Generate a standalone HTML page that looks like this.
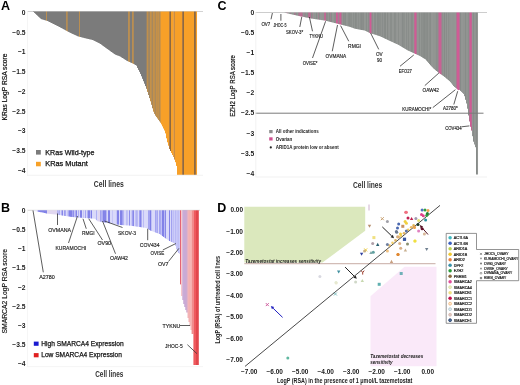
<!DOCTYPE html>
<html><head><meta charset="utf-8"><style>
html,body{margin:0;padding:0;background:#fff;}
svg{display:block;font-family:"Liberation Sans", Arial, sans-serif;}
</style></head><body>
<svg width="520" height="385" viewBox="0 0 520 385">
<rect width="520" height="385" fill="#fff"/>
<line x1="27" y1="11.5" x2="203" y2="11.5" stroke="#c8c8c8" stroke-width="0.8"/>
<rect x="33" y="11.5" width="1.02" height="0.5" fill="#7b7b7b"/>
<rect x="34" y="11.5" width="1.02" height="1.4" fill="#7b7b7b"/>
<rect x="35" y="11.5" width="1.02" height="2.3" fill="#7b7b7b"/>
<rect x="36" y="11.5" width="1.02" height="3.3" fill="#7b7b7b"/>
<rect x="37" y="11.5" width="1.02" height="4.2" fill="#7b7b7b"/>
<rect x="38" y="11.5" width="1.02" height="5.2" fill="#7b7b7b"/>
<rect x="39" y="11.5" width="1.02" height="6.1" fill="#7b7b7b"/>
<rect x="40" y="11.5" width="1.02" height="7.0" fill="#7b7b7b"/>
<rect x="41" y="11.5" width="1.02" height="7.7" fill="#7b7b7b"/>
<rect x="42" y="11.5" width="1.02" height="8.0" fill="#7b7b7b"/>
<rect x="43" y="11.5" width="1.02" height="8.3" fill="#7b7b7b"/>
<rect x="44" y="11.5" width="1.02" height="8.6" fill="#7b7b7b"/>
<rect x="45" y="11.5" width="1.02" height="8.9" fill="#7b7b7b"/>
<rect x="46" y="11.5" width="1.02" height="9.2" fill="#b98e52"/>
<rect x="47" y="11.5" width="1.02" height="9.5" fill="#7b7b7b"/>
<rect x="48" y="11.5" width="1.02" height="10.0" fill="#7b7b7b"/>
<rect x="49" y="11.5" width="1.02" height="10.5" fill="#7b7b7b"/>
<rect x="50" y="11.5" width="1.02" height="11.0" fill="#7b7b7b"/>
<rect x="51" y="11.5" width="1.02" height="11.5" fill="#7b7b7b"/>
<rect x="52" y="11.5" width="1.02" height="12.0" fill="#7b7b7b"/>
<rect x="53" y="11.5" width="1.02" height="12.5" fill="#7b7b7b"/>
<rect x="54" y="11.5" width="1.02" height="13.0" fill="#7b7b7b"/>
<rect x="55" y="11.5" width="1.02" height="13.5" fill="#7b7b7b"/>
<rect x="56" y="11.5" width="1.02" height="14.0" fill="#7b7b7b"/>
<rect x="57" y="11.5" width="1.02" height="14.5" fill="#7b7b7b"/>
<rect x="58" y="11.5" width="1.02" height="15.0" fill="#7b7b7b"/>
<rect x="59" y="11.5" width="1.02" height="15.5" fill="#7b7b7b"/>
<rect x="60" y="11.5" width="1.02" height="16.1" fill="#7b7b7b"/>
<rect x="61" y="11.5" width="1.02" height="16.6" fill="#7b7b7b"/>
<rect x="62" y="11.5" width="1.02" height="17.1" fill="#7b7b7b"/>
<rect x="63" y="11.5" width="1.02" height="17.7" fill="#7b7b7b"/>
<rect x="64" y="11.5" width="1.02" height="18.2" fill="#7b7b7b"/>
<rect x="65" y="11.5" width="1.02" height="18.8" fill="#7b7b7b"/>
<rect x="66" y="11.5" width="1.02" height="19.3" fill="#b38c56"/>
<rect x="67" y="11.5" width="1.02" height="19.9" fill="#a6885e"/>
<rect x="68" y="11.5" width="1.02" height="20.4" fill="#7b7b7b"/>
<rect x="69" y="11.5" width="1.02" height="20.9" fill="#7b7b7b"/>
<rect x="70" y="11.5" width="1.02" height="21.4" fill="#7b7b7b"/>
<rect x="71" y="11.5" width="1.02" height="21.9" fill="#7b7b7b"/>
<rect x="72" y="11.5" width="1.02" height="22.4" fill="#7b7b7b"/>
<rect x="73" y="11.5" width="1.02" height="22.8" fill="#7b7b7b"/>
<rect x="74" y="11.5" width="1.02" height="23.3" fill="#7b7b7b"/>
<rect x="75" y="11.5" width="1.02" height="23.7" fill="#7b7b7b"/>
<rect x="76" y="11.5" width="1.02" height="24.2" fill="#7b7b7b"/>
<rect x="77" y="11.5" width="1.02" height="24.7" fill="#7b7b7b"/>
<rect x="78" y="11.5" width="1.02" height="25.0" fill="#7b7b7b"/>
<rect x="79" y="11.5" width="1.02" height="25.3" fill="#b98e52"/>
<rect x="80" y="11.5" width="1.02" height="25.5" fill="#7b7b7b"/>
<rect x="81" y="11.5" width="1.02" height="25.8" fill="#7b7b7b"/>
<rect x="82" y="11.5" width="1.02" height="26.1" fill="#7b7b7b"/>
<rect x="83" y="11.5" width="1.02" height="26.3" fill="#7b7b7b"/>
<rect x="84" y="11.5" width="1.02" height="26.6" fill="#7b7b7b"/>
<rect x="85" y="11.5" width="1.02" height="26.8" fill="#7b7b7b"/>
<rect x="86" y="11.5" width="1.02" height="27.1" fill="#7b7b7b"/>
<rect x="87" y="11.5" width="1.02" height="27.3" fill="#7b7b7b"/>
<rect x="88" y="11.5" width="1.02" height="27.5" fill="#7b7b7b"/>
<rect x="89" y="11.5" width="1.02" height="27.8" fill="#7b7b7b"/>
<rect x="90" y="11.5" width="1.02" height="28.0" fill="#7b7b7b"/>
<rect x="91" y="11.5" width="1.02" height="28.2" fill="#7b7b7b"/>
<rect x="92" y="11.5" width="1.02" height="28.5" fill="#7b7b7b"/>
<rect x="93" y="11.5" width="1.02" height="28.9" fill="#7b7b7b"/>
<rect x="94" y="11.5" width="1.02" height="29.4" fill="#7b7b7b"/>
<rect x="95" y="11.5" width="1.02" height="29.9" fill="#7b7b7b"/>
<rect x="96" y="11.5" width="1.02" height="30.4" fill="#7b7b7b"/>
<rect x="97" y="11.5" width="1.02" height="30.9" fill="#7b7b7b"/>
<rect x="98" y="11.5" width="1.02" height="31.4" fill="#7b7b7b"/>
<rect x="99" y="11.5" width="1.02" height="31.9" fill="#7b7b7b"/>
<rect x="100" y="11.5" width="1.02" height="32.5" fill="#7b7b7b"/>
<rect x="101" y="11.5" width="1.02" height="33.2" fill="#7b7b7b"/>
<rect x="102" y="11.5" width="1.02" height="34.0" fill="#7b7b7b"/>
<rect x="103" y="11.5" width="1.02" height="34.7" fill="#7b7b7b"/>
<rect x="104" y="11.5" width="1.02" height="35.4" fill="#7b7b7b"/>
<rect x="105" y="11.5" width="1.02" height="36.2" fill="#7b7b7b"/>
<rect x="106" y="11.5" width="1.02" height="36.9" fill="#7b7b7b"/>
<rect x="107" y="11.5" width="1.02" height="37.6" fill="#7b7b7b"/>
<rect x="108" y="11.5" width="1.02" height="38.3" fill="#7b7b7b"/>
<rect x="109" y="11.5" width="1.02" height="39.0" fill="#7b7b7b"/>
<rect x="110" y="11.5" width="1.02" height="39.8" fill="#7b7b7b"/>
<rect x="111" y="11.5" width="1.02" height="40.5" fill="#7b7b7b"/>
<rect x="112" y="11.5" width="1.02" height="41.2" fill="#7b7b7b"/>
<rect x="113" y="11.5" width="1.02" height="41.9" fill="#7b7b7b"/>
<rect x="114" y="11.5" width="1.02" height="42.6" fill="#7b7b7b"/>
<rect x="115" y="11.5" width="1.02" height="43.2" fill="#7b7b7b"/>
<rect x="116" y="11.5" width="1.02" height="43.6" fill="#7b7b7b"/>
<rect x="117" y="11.5" width="1.02" height="44.0" fill="#7b7b7b"/>
<rect x="118" y="11.5" width="1.02" height="44.3" fill="#7b7b7b"/>
<rect x="119" y="11.5" width="1.02" height="44.7" fill="#7b7b7b"/>
<rect x="120" y="11.5" width="1.02" height="45.2" fill="#7b7b7b"/>
<rect x="121" y="11.5" width="1.02" height="45.9" fill="#7b7b7b"/>
<rect x="122" y="11.5" width="1.02" height="46.5" fill="#7b7b7b"/>
<rect x="123" y="11.5" width="1.02" height="47.1" fill="#7b7b7b"/>
<rect x="124" y="11.5" width="1.02" height="47.8" fill="#7b7b7b"/>
<rect x="125" y="11.5" width="1.02" height="48.4" fill="#7b7b7b"/>
<rect x="126" y="11.5" width="1.02" height="49.1" fill="#7b7b7b"/>
<rect x="127" y="11.5" width="1.02" height="49.6" fill="#7b7b7b"/>
<rect x="128" y="11.5" width="1.02" height="50.1" fill="#b98e52"/>
<rect x="129" y="11.5" width="1.02" height="50.5" fill="#b38c56"/>
<rect x="130" y="11.5" width="1.02" height="51.0" fill="#7b7b7b"/>
<rect x="131" y="11.5" width="1.02" height="51.4" fill="#7b7b7b"/>
<rect x="132" y="11.5" width="1.02" height="51.9" fill="#b98e52"/>
<rect x="133" y="11.5" width="1.02" height="52.4" fill="#ad8a5a"/>
<rect x="134" y="11.5" width="1.02" height="52.9" fill="#7b7b7b"/>
<rect x="135" y="11.5" width="1.02" height="53.5" fill="#7b7b7b"/>
<rect x="136" y="11.5" width="1.02" height="54.2" fill="#7b7b7b"/>
<rect x="137" y="11.5" width="1.02" height="56.4" fill="#7b7b7b"/>
<rect x="138" y="11.5" width="1.02" height="58.4" fill="#7b7b7b"/>
<rect x="139" y="11.5" width="1.02" height="60.3" fill="#7b7b7b"/>
<rect x="140" y="11.5" width="1.02" height="62.4" fill="#7b7b7b"/>
<rect x="141" y="11.5" width="1.02" height="64.8" fill="#7b7b7b"/>
<rect x="142" y="11.5" width="1.02" height="67.3" fill="#7b7b7b"/>
<rect x="143" y="11.5" width="1.02" height="69.7" fill="#7b7b7b"/>
<rect x="144" y="11.5" width="1.02" height="72.2" fill="#7b7b7b"/>
<rect x="145" y="11.5" width="1.02" height="74.6" fill="#7b7b7b"/>
<rect x="146" y="11.5" width="1.02" height="77.3" fill="#94826a"/>
<rect x="147" y="11.5" width="1.02" height="80.4" fill="#bf8f4d"/>
<rect x="148" y="11.5" width="1.02" height="83.5" fill="#a6885e"/>
<rect x="149" y="11.5" width="1.02" height="86.6" fill="#a08662"/>
<rect x="150" y="11.5" width="1.02" height="89.8" fill="#c59149"/>
<rect x="151" y="11.5" width="1.02" height="93.3" fill="#b98e52"/>
<rect x="152" y="11.5" width="1.02" height="96.8" fill="#a6885e"/>
<rect x="153" y="11.5" width="1.02" height="100.2" fill="#c59149"/>
<rect x="154" y="11.5" width="1.02" height="102.4" fill="#bf8f4d"/>
<rect x="155" y="11.5" width="1.02" height="104.2" fill="#ad8a5a"/>
<rect x="156" y="11.5" width="1.02" height="105.6" fill="#c59149"/>
<rect x="157" y="11.5" width="1.02" height="107.0" fill="#bf8f4d"/>
<rect x="158" y="11.5" width="1.02" height="108.4" fill="#c59149"/>
<rect x="159" y="11.5" width="1.02" height="109.8" fill="#b38c56"/>
<rect x="160" y="11.5" width="1.02" height="111.2" fill="#d29541"/>
<rect x="161" y="11.5" width="1.02" height="112.9" fill="#f7a028"/>
<rect x="162" y="11.5" width="1.02" height="114.9" fill="#f7a028"/>
<rect x="163" y="11.5" width="1.02" height="117.0" fill="#f7a028"/>
<rect x="164" y="11.5" width="1.02" height="119.0" fill="#f7a028"/>
<rect x="165" y="11.5" width="1.02" height="121.9" fill="#f7a028"/>
<rect x="166" y="11.5" width="1.02" height="126.8" fill="#f7a028"/>
<rect x="167" y="11.5" width="1.02" height="130.8" fill="#f7a028"/>
<rect x="168" y="11.5" width="1.02" height="134.2" fill="#f7a028"/>
<rect x="169" y="11.5" width="1.02" height="137.5" fill="#af7d46"/>
<rect x="170" y="11.5" width="1.02" height="139.5" fill="#8c6941"/>
<rect x="171" y="11.5" width="1.02" height="141.5" fill="#f7a028"/>
<rect x="172" y="11.5" width="1.02" height="143.5" fill="#f7a028"/>
<rect x="173" y="11.5" width="1.02" height="145.5" fill="#e6a046"/>
<rect x="174" y="11.5" width="1.02" height="148.1" fill="#c88c46"/>
<rect x="175" y="11.5" width="1.02" height="150.7" fill="#f7a028"/>
<rect x="176" y="11.5" width="1.02" height="154.4" fill="#f7a028"/>
<rect x="177" y="11.5" width="1.02" height="163.4" fill="#f7a028"/>
<rect x="178" y="11.5" width="1.02" height="163.4" fill="#f7a028"/>
<rect x="179" y="11.5" width="1.02" height="163.4" fill="#f7a028"/>
<rect x="180" y="11.5" width="1.02" height="163.4" fill="#f7a028"/>
<rect x="181" y="11.5" width="1.02" height="163.4" fill="#f7a028"/>
<rect x="182" y="11.5" width="1.02" height="163.4" fill="#aa7846"/>
<rect x="183" y="11.5" width="1.02" height="163.4" fill="#8c6941"/>
<rect x="184" y="11.5" width="1.02" height="163.4" fill="#f7a028"/>
<rect x="185" y="11.5" width="1.02" height="163.4" fill="#f7a028"/>
<rect x="186" y="11.5" width="1.02" height="163.4" fill="#f7a028"/>
<rect x="187" y="11.5" width="1.02" height="163.4" fill="#f7a028"/>
<rect x="188" y="11.5" width="1.02" height="163.4" fill="#f7a028"/>
<rect x="189" y="11.5" width="1.02" height="163.4" fill="#f7a028"/>
<rect x="190" y="11.5" width="1.02" height="163.4" fill="#f7a028"/>
<rect x="191" y="11.5" width="1.02" height="163.4" fill="#f7a028"/>
<rect x="192" y="11.5" width="1.02" height="163.4" fill="#f7a028"/>
<rect x="193" y="11.5" width="1.02" height="163.4" fill="#f7a028"/>
<rect x="194" y="11.5" width="1.02" height="163.4" fill="#8c6941"/>
<rect x="195" y="11.5" width="1.02" height="163.4" fill="#a07341"/>
<rect x="196" y="11.5" width="1.02" height="163.4" fill="#f7a028"/>
<line x1="27" y1="175.3" x2="203" y2="175.3" stroke="#f0f0f0" stroke-width="0.8"/>
<line x1="27.5" y1="11" x2="27.5" y2="176" stroke="#f2f2f2" stroke-width="0.8"/>
<text x="25.5" y="14.9" font-size="6.7" text-anchor="end" font-weight="bold" fill="#1a1a1a" >0</text>
<text x="25.5" y="34.65" font-size="6.7" text-anchor="end" font-weight="bold" fill="#1a1a1a" >−0.5</text>
<text x="25.5" y="54.4" font-size="6.7" text-anchor="end" font-weight="bold" fill="#1a1a1a" >−1</text>
<text x="25.5" y="74.15" font-size="6.7" text-anchor="end" font-weight="bold" fill="#1a1a1a" >−1.5</text>
<text x="25.5" y="93.9" font-size="6.7" text-anchor="end" font-weight="bold" fill="#1a1a1a" >−2</text>
<text x="25.5" y="113.65" font-size="6.7" text-anchor="end" font-weight="bold" fill="#1a1a1a" >−2.5</text>
<text x="25.5" y="133.4" font-size="6.7" text-anchor="end" font-weight="bold" fill="#1a1a1a" >−3</text>
<text x="25.5" y="153.15" font-size="6.7" text-anchor="end" font-weight="bold" fill="#1a1a1a" >−3.5</text>
<text x="25.5" y="172.9" font-size="6.7" text-anchor="end" font-weight="bold" fill="#1a1a1a" >−4</text>
<text x="1" y="10.3" font-size="12.5" text-anchor="start" font-weight="bold" fill="#000" >A</text>
<text transform="translate(7.1,87.05) rotate(-90)" font-size="6.9" text-anchor="middle" fill="#111" stroke="#111" stroke-width="0.2" textLength="66.9" lengthAdjust="spacingAndGlyphs">KRas LogP RSA score</text>
<rect x="36" y="150" width="4.8" height="4.6" fill="#7b7b7b"/>
<rect x="36" y="161.8" width="4.8" height="4.5" fill="#f7a128"/>
<text x="45.3" y="155" font-size="7.3" text-anchor="start" font-weight="normal" fill="#111" textLength="49.20" lengthAdjust="spacingAndGlyphs" stroke="#111" stroke-width="0.25">KRas Wild-type</text>
<text x="45.3" y="166.2" font-size="7.3" text-anchor="start" font-weight="normal" fill="#111" textLength="42.50" lengthAdjust="spacingAndGlyphs" stroke="#111" stroke-width="0.25">KRas Mutant</text>
<text x="93.8" y="187.2" font-size="8.2" text-anchor="start" font-weight="bold" fill="#333" textLength="30.00" lengthAdjust="spacingAndGlyphs" >Cell lines</text>
<line x1="27" y1="210.3" x2="200" y2="210.3" stroke="#d0d0d0" stroke-width="0.8"/>
<line x1="27" y1="366.6" x2="203" y2="366.6" stroke="#f2f2f2" stroke-width="0.8"/>
<line x1="27.5" y1="210" x2="27.5" y2="367" stroke="#f4f4f4" stroke-width="0.8"/>
<rect x="33" y="210.3" width="1.02" height="0.4" fill="#ebebfc"/>
<rect x="34" y="210.3" width="1.02" height="0.8" fill="#ebebfc"/>
<rect x="35" y="210.3" width="1.02" height="1.0" fill="#ebebfc"/>
<rect x="36" y="210.3" width="1.02" height="1.2" fill="#ebebfc"/>
<rect x="37" y="210.3" width="1.02" height="1.4" fill="#c7c7f7"/>
<rect x="38" y="210.3" width="1.02" height="1.5" fill="#8282e7"/>
<rect x="39" y="210.3" width="1.02" height="1.7" fill="#8282e7"/>
<rect x="40" y="210.3" width="1.02" height="1.9" fill="#8282e7"/>
<rect x="41" y="210.3" width="1.02" height="2.0" fill="#8282e7"/>
<rect x="42" y="210.3" width="1.02" height="2.2" fill="#8282e7"/>
<rect x="43" y="210.3" width="1.02" height="2.4" fill="#8282e7"/>
<rect x="44" y="210.3" width="1.02" height="2.7" fill="#8282e7"/>
<rect x="45" y="210.3" width="1.02" height="2.9" fill="#8282e7"/>
<rect x="46" y="210.3" width="1.02" height="3.2" fill="#8282e7"/>
<rect x="47" y="210.3" width="1.02" height="3.4" fill="#e1d7f0"/>
<rect x="48" y="210.3" width="1.02" height="3.5" fill="#e1d7f0"/>
<rect x="49" y="210.3" width="1.02" height="3.6" fill="#e1d7f0"/>
<rect x="50" y="210.3" width="1.02" height="3.7" fill="#e1d7f0"/>
<rect x="51" y="210.3" width="1.02" height="3.8" fill="#e1d7f0"/>
<rect x="52" y="210.3" width="1.02" height="3.9" fill="#e1d7f0"/>
<rect x="53" y="210.3" width="1.02" height="4.0" fill="#e1d7f0"/>
<rect x="54" y="210.3" width="1.02" height="4.1" fill="#e1d7f0"/>
<rect x="55" y="210.3" width="1.02" height="4.2" fill="#e1d7f0"/>
<rect x="56" y="210.3" width="1.02" height="4.3" fill="#e1d7f0"/>
<rect x="57" y="210.3" width="1.02" height="4.5" fill="#b1b1f3"/>
<rect x="58" y="210.3" width="1.02" height="4.6" fill="#bcbcf5"/>
<rect x="59" y="210.3" width="1.02" height="4.8" fill="#acacf2"/>
<rect x="60" y="210.3" width="1.02" height="4.9" fill="#dadafa"/>
<rect x="61" y="210.3" width="1.02" height="5.1" fill="#b3b3f3"/>
<rect x="62" y="210.3" width="1.02" height="5.3" fill="#8686e8"/>
<rect x="63" y="210.3" width="1.02" height="5.4" fill="#dadafa"/>
<rect x="64" y="210.3" width="1.02" height="5.6" fill="#9c9cef"/>
<rect x="65" y="210.3" width="1.02" height="5.7" fill="#aaaaf2"/>
<rect x="66" y="210.3" width="1.02" height="5.9" fill="#dadafa"/>
<rect x="67" y="210.3" width="1.02" height="6.0" fill="#c7c7f7"/>
<rect x="68" y="210.3" width="1.02" height="6.2" fill="#aaaaf2"/>
<rect x="69" y="210.3" width="1.02" height="6.3" fill="#8282e7"/>
<rect x="70" y="210.3" width="1.02" height="6.5" fill="#8282e7"/>
<rect x="71" y="210.3" width="1.02" height="6.6" fill="#8282e7"/>
<rect x="72" y="210.3" width="1.02" height="6.7" fill="#a6a6f1"/>
<rect x="73" y="210.3" width="1.02" height="6.8" fill="#8f8feb"/>
<rect x="74" y="210.3" width="1.02" height="6.9" fill="#c6c6f7"/>
<rect x="75" y="210.3" width="1.02" height="7.0" fill="#aeaef2"/>
<rect x="76" y="210.3" width="1.02" height="7.1" fill="#8383e7"/>
<rect x="77" y="210.3" width="1.02" height="7.2" fill="#dadafa"/>
<rect x="78" y="210.3" width="1.02" height="7.3" fill="#adadf2"/>
<rect x="79" y="210.3" width="1.02" height="7.3" fill="#dadafa"/>
<rect x="80" y="210.3" width="1.02" height="7.4" fill="#8282e7"/>
<rect x="81" y="210.3" width="1.02" height="7.5" fill="#8282e7"/>
<rect x="82" y="210.3" width="1.02" height="7.6" fill="#dadafa"/>
<rect x="83" y="210.3" width="1.02" height="7.6" fill="#c3c3f6"/>
<rect x="84" y="210.3" width="1.02" height="7.7" fill="#dadafa"/>
<rect x="85" y="210.3" width="1.02" height="7.8" fill="#a5a5f1"/>
<rect x="86" y="210.3" width="1.02" height="7.8" fill="#dadafa"/>
<rect x="87" y="210.3" width="1.02" height="7.9" fill="#b2b2f3"/>
<rect x="88" y="210.3" width="1.02" height="8.0" fill="#8282e7"/>
<rect x="89" y="210.3" width="1.02" height="8.1" fill="#8282e7"/>
<rect x="90" y="210.3" width="1.02" height="8.1" fill="#babaf4"/>
<rect x="91" y="210.3" width="1.02" height="8.2" fill="#7e7ee6"/>
<rect x="92" y="210.3" width="1.02" height="8.3" fill="#dadafa"/>
<rect x="93" y="210.3" width="1.02" height="8.3" fill="#dadafa"/>
<rect x="94" y="210.3" width="1.02" height="8.4" fill="#dadafa"/>
<rect x="95" y="210.3" width="1.02" height="8.9" fill="#dadafa"/>
<rect x="96" y="210.3" width="1.02" height="9.9" fill="#b1b1f3"/>
<rect x="97" y="210.3" width="1.02" height="10.9" fill="#dadafa"/>
<rect x="98" y="210.3" width="1.02" height="11.1" fill="#e1d7f0"/>
<rect x="99" y="210.3" width="1.02" height="11.3" fill="#e1d7f0"/>
<rect x="100" y="210.3" width="1.02" height="11.4" fill="#a2a2f0"/>
<rect x="101" y="210.3" width="1.02" height="11.6" fill="#b4b4f3"/>
<rect x="102" y="210.3" width="1.02" height="11.8" fill="#adadf2"/>
<rect x="103" y="210.3" width="1.02" height="11.9" fill="#8282e7"/>
<rect x="104" y="210.3" width="1.02" height="12.1" fill="#8585e8"/>
<rect x="105" y="210.3" width="1.02" height="12.3" fill="#8484e8"/>
<rect x="106" y="210.3" width="1.02" height="12.4" fill="#b8b8f4"/>
<rect x="107" y="210.3" width="1.02" height="12.6" fill="#dadafa"/>
<rect x="108" y="210.3" width="1.02" height="12.8" fill="#8282e7"/>
<rect x="109" y="210.3" width="1.02" height="12.9" fill="#8282e7"/>
<rect x="110" y="210.3" width="1.02" height="13.1" fill="#dadafa"/>
<rect x="111" y="210.3" width="1.02" height="13.3" fill="#dadafa"/>
<rect x="112" y="210.3" width="1.02" height="13.4" fill="#c6c6f7"/>
<rect x="113" y="210.3" width="1.02" height="13.6" fill="#dadafa"/>
<rect x="114" y="210.3" width="1.02" height="13.8" fill="#dadafa"/>
<rect x="115" y="210.3" width="1.02" height="13.9" fill="#dadafa"/>
<rect x="116" y="210.3" width="1.02" height="14.1" fill="#c8c8f7"/>
<rect x="117" y="210.3" width="1.02" height="14.3" fill="#8282e7"/>
<rect x="118" y="210.3" width="1.02" height="14.4" fill="#8282e7"/>
<rect x="119" y="210.3" width="1.02" height="14.6" fill="#dadafa"/>
<rect x="120" y="210.3" width="1.02" height="14.7" fill="#8282e7"/>
<rect x="121" y="210.3" width="1.02" height="14.8" fill="#8282e7"/>
<rect x="122" y="210.3" width="1.02" height="14.8" fill="#a0a0f0"/>
<rect x="123" y="210.3" width="1.02" height="14.9" fill="#b5b5f4"/>
<rect x="124" y="210.3" width="1.02" height="15.0" fill="#dadafa"/>
<rect x="125" y="210.3" width="1.02" height="15.0" fill="#dadafa"/>
<rect x="126" y="210.3" width="1.02" height="15.1" fill="#bebef5"/>
<rect x="127" y="210.3" width="1.02" height="15.1" fill="#c2c2f6"/>
<rect x="128" y="210.3" width="1.02" height="15.2" fill="#dadafa"/>
<rect x="129" y="210.3" width="1.02" height="15.3" fill="#8e8eea"/>
<rect x="130" y="210.3" width="1.02" height="15.4" fill="#dadafa"/>
<rect x="131" y="210.3" width="1.02" height="15.5" fill="#c8c8f7"/>
<rect x="132" y="210.3" width="1.02" height="15.7" fill="#a1a1f0"/>
<rect x="133" y="210.3" width="1.02" height="15.8" fill="#8888e9"/>
<rect x="134" y="210.3" width="1.02" height="16.0" fill="#dadafa"/>
<rect x="135" y="210.3" width="1.02" height="16.1" fill="#c2c2f6"/>
<rect x="136" y="210.3" width="1.02" height="16.3" fill="#b3b3f3"/>
<rect x="137" y="210.3" width="1.02" height="16.4" fill="#bbbbf5"/>
<rect x="138" y="210.3" width="1.02" height="16.5" fill="#dadafa"/>
<rect x="139" y="210.3" width="1.02" height="16.7" fill="#a1a1f0"/>
<rect x="140" y="210.3" width="1.02" height="16.8" fill="#8484e8"/>
<rect x="141" y="210.3" width="1.02" height="17.0" fill="#ababf2"/>
<rect x="142" y="210.3" width="1.02" height="17.1" fill="#dadafa"/>
<rect x="143" y="210.3" width="1.02" height="17.3" fill="#babaf5"/>
<rect x="144" y="210.3" width="1.02" height="17.4" fill="#dadafa"/>
<rect x="145" y="210.3" width="1.02" height="17.6" fill="#dadafa"/>
<rect x="146" y="210.3" width="1.02" height="17.8" fill="#dadafa"/>
<rect x="147" y="210.3" width="1.02" height="18.4" fill="#dadafa"/>
<rect x="148" y="210.3" width="1.02" height="19.0" fill="#a2a2f0"/>
<rect x="149" y="210.3" width="1.02" height="19.7" fill="#a3a3f0"/>
<rect x="150" y="210.3" width="1.02" height="20.3" fill="#7f7fe6"/>
<rect x="151" y="210.3" width="1.02" height="20.7" fill="#c0c0f5"/>
<rect x="152" y="210.3" width="1.02" height="21.0" fill="#dadafa"/>
<rect x="153" y="210.3" width="1.02" height="21.4" fill="#dadafa"/>
<rect x="154" y="210.3" width="1.02" height="21.8" fill="#dadafa"/>
<rect x="155" y="210.3" width="1.02" height="22.2" fill="#a4a4f1"/>
<rect x="156" y="210.3" width="1.02" height="22.6" fill="#b5b5f4"/>
<rect x="157" y="210.3" width="1.02" height="22.9" fill="#a8a8f1"/>
<rect x="158" y="210.3" width="1.02" height="23.3" fill="#dadafa"/>
<rect x="159" y="210.3" width="1.02" height="23.7" fill="#a4a4f1"/>
<rect x="160" y="210.3" width="1.02" height="24.3" fill="#aaaaf2"/>
<rect x="161" y="210.3" width="1.02" height="25.0" fill="#c1c1f6"/>
<rect x="162" y="210.3" width="1.02" height="25.8" fill="#8282e7"/>
<rect x="163" y="210.3" width="1.02" height="26.6" fill="#8282e7"/>
<rect x="164" y="210.3" width="1.02" height="27.3" fill="#b8b8f4"/>
<rect x="165" y="210.3" width="1.02" height="28.0" fill="#8787e8"/>
<rect x="166" y="210.3" width="1.02" height="28.7" fill="#dadafa"/>
<rect x="167" y="210.3" width="1.02" height="29.3" fill="#dadafa"/>
<rect x="168" y="210.3" width="1.02" height="30.0" fill="#dadafa"/>
<rect x="169" y="210.3" width="1.02" height="30.7" fill="#8484e8"/>
<rect x="170" y="210.3" width="1.02" height="31.2" fill="#dadafa"/>
<rect x="171" y="210.3" width="1.02" height="31.6" fill="#a1a1f0"/>
<rect x="172" y="210.3" width="1.02" height="32.1" fill="#c8c8f8"/>
<rect x="173" y="210.3" width="1.02" height="32.5" fill="#bebef6"/>
<rect x="174" y="210.3" width="1.02" height="32.9" fill="#cdcdfa"/>
<rect x="175" y="210.3" width="1.02" height="35.4" fill="#b9b9f5"/>
<rect x="176" y="210.3" width="1.02" height="38.9" fill="#c8c8f8"/>
<rect x="177" y="210.3" width="1.02" height="41.2" fill="#c3c3f7"/>
<rect x="178" y="210.3" width="1.02" height="42.7" fill="#bebef6"/>
<rect x="179" y="210.3" width="1.02" height="43.4" fill="#cdcdfa"/>
<rect x="180" y="210.3" width="1.00" height="74.1" fill="#e46474"/>
<rect x="181" y="210.3" width="1.40" height="85.7" fill="#f6c8cc"/>
<rect x="182.4" y="210.3" width="1.00" height="89.7" fill="#c098cc"/>
<rect x="183.4" y="210.3" width="1.00" height="93.7" fill="#b890c8"/>
<rect x="184.4" y="210.3" width="1.00" height="96.7" fill="#b890c8"/>
<rect x="185.4" y="210.3" width="1.00" height="99.7" fill="#b890c8"/>
<rect x="186.4" y="210.3" width="1.20" height="102.2" fill="#c090c0"/>
<rect x="187.6" y="210.3" width="1.00" height="107.7" fill="#f0a0a8"/>
<rect x="188.6" y="210.3" width="1.00" height="111.7" fill="#f09898"/>
<rect x="189.6" y="210.3" width="1.00" height="115.7" fill="#f09898"/>
<rect x="190.6" y="210.3" width="1.00" height="119.7" fill="#f4a4a4"/>
<rect x="191.6" y="210.3" width="1.80" height="123.7" fill="#f08c8c"/>
<rect x="193.4" y="210.3" width="2.60" height="154.7" fill="#ee5a5e"/>
<rect x="196" y="210.3" width="2.80" height="154.7" fill="#e2464c"/>
<text x="25.5" y="212.9" font-size="6.7" text-anchor="end" font-weight="bold" fill="#1a1a1a" >0</text>
<text x="25.5" y="232.05" font-size="6.7" text-anchor="end" font-weight="bold" fill="#1a1a1a" >−0.5</text>
<text x="25.5" y="251.2" font-size="6.7" text-anchor="end" font-weight="bold" fill="#1a1a1a" >−1</text>
<text x="25.5" y="270.35" font-size="6.7" text-anchor="end" font-weight="bold" fill="#1a1a1a" >−1.5</text>
<text x="25.5" y="289.5" font-size="6.7" text-anchor="end" font-weight="bold" fill="#1a1a1a" >−2</text>
<text x="25.5" y="308.65" font-size="6.7" text-anchor="end" font-weight="bold" fill="#1a1a1a" >−2.5</text>
<text x="25.5" y="327.8" font-size="6.7" text-anchor="end" font-weight="bold" fill="#1a1a1a" >−3</text>
<text x="25.5" y="346.95" font-size="6.7" text-anchor="end" font-weight="bold" fill="#1a1a1a" >−3.5</text>
<text x="25.5" y="366.1" font-size="6.7" text-anchor="end" font-weight="bold" fill="#1a1a1a" >−4</text>
<text x="1" y="211.5" font-size="12.5" text-anchor="start" font-weight="bold" fill="#000" >B</text>
<text transform="translate(7.1,291.3) rotate(-90)" font-size="6.8" text-anchor="middle" fill="#111" stroke="#111" stroke-width="0.15" textLength="84.5" lengthAdjust="spacingAndGlyphs">SMARCA2 LogP RSA score</text>
<rect x="33.8" y="341.6" width="4.8" height="4.2" fill="#1a1ad0"/>
<rect x="33.8" y="353.1" width="4.8" height="4.2" fill="#e02020"/>
<text x="41.2" y="346" font-size="7.2" text-anchor="start" font-weight="normal" fill="#111" textLength="82.50" lengthAdjust="spacingAndGlyphs" stroke="#111" stroke-width="0.25">High SMARCA4 Expression</text>
<text x="41.2" y="357.2" font-size="7.2" text-anchor="start" font-weight="normal" fill="#111" textLength="80.70" lengthAdjust="spacingAndGlyphs" stroke="#111" stroke-width="0.25">Low SMARCA4 Expression</text>
<text x="95.2" y="376.8" font-size="8.2" text-anchor="start" font-weight="bold" fill="#333" textLength="28.20" lengthAdjust="spacingAndGlyphs" >Cell lines</text>
<line x1="33" y1="210.5" x2="43.3" y2="272.3" stroke="#333" stroke-width="0.8"/>
<line x1="57.5" y1="213.5" x2="57.5" y2="225" stroke="#333" stroke-width="0.8"/>
<line x1="77.5" y1="216" x2="68.5" y2="243" stroke="#333" stroke-width="0.8"/>
<line x1="83" y1="218.75" x2="86.25" y2="228.75" stroke="#333" stroke-width="0.8"/>
<line x1="88.75" y1="218.75" x2="102.5" y2="240" stroke="#333" stroke-width="0.8"/>
<line x1="102.5" y1="221" x2="115.5" y2="253.75" stroke="#333" stroke-width="0.8"/>
<line x1="104.5" y1="221" x2="122.5" y2="227.5" stroke="#333" stroke-width="0.8"/>
<line x1="147.7" y1="228.8" x2="147.7" y2="240.2" stroke="#333" stroke-width="0.8"/>
<line x1="162.8" y1="250" x2="175.9" y2="243.5" stroke="#333" stroke-width="0.8"/>
<line x1="168.5" y1="261.5" x2="178.9" y2="248.4" stroke="#333" stroke-width="0.8"/>
<line x1="180" y1="325.5" x2="190" y2="325.5" stroke="#333" stroke-width="0.8"/>
<line x1="187.4" y1="344.7" x2="196.9" y2="353.6" stroke="#333" stroke-width="0.8"/>
<text x="48.2" y="231.8" font-size="5.3" text-anchor="start" font-weight="normal" fill="#222" textLength="22.80" lengthAdjust="spacingAndGlyphs" stroke="#222" stroke-width="0.15">OVMANA</text>
<text x="55.5" y="250.1" font-size="5.3" text-anchor="start" font-weight="normal" fill="#222" textLength="30.70" lengthAdjust="spacingAndGlyphs" stroke="#222" stroke-width="0.15">KURAMOCHI</text>
<text x="82" y="235" font-size="5.3" text-anchor="start" font-weight="normal" fill="#222" textLength="12.50" lengthAdjust="spacingAndGlyphs" stroke="#222" stroke-width="0.15">RMGI</text>
<text x="97.5" y="245" font-size="5.3" text-anchor="start" font-weight="normal" fill="#222" textLength="13.50" lengthAdjust="spacingAndGlyphs" stroke="#222" stroke-width="0.15">OV90</text>
<text x="110" y="259.5" font-size="5.3" text-anchor="start" font-weight="normal" fill="#222" textLength="18.00" lengthAdjust="spacingAndGlyphs" stroke="#222" stroke-width="0.15">OAW42</text>
<text x="118" y="234.5" font-size="5.3" text-anchor="start" font-weight="normal" fill="#222" textLength="18.00" lengthAdjust="spacingAndGlyphs" stroke="#222" stroke-width="0.15">SKOV-3</text>
<text x="139.8" y="246.8" font-size="5.3" text-anchor="start" font-weight="normal" fill="#222" textLength="19.70" lengthAdjust="spacingAndGlyphs" stroke="#222" stroke-width="0.15">COV434</text>
<text x="150.5" y="254.5" font-size="5.3" text-anchor="start" font-weight="normal" fill="#222" textLength="13.90" lengthAdjust="spacingAndGlyphs" stroke="#222" stroke-width="0.15">OVISE</text>
<text x="157.9" y="265.7" font-size="5.3" text-anchor="start" font-weight="normal" fill="#222" textLength="10.60" lengthAdjust="spacingAndGlyphs" stroke="#222" stroke-width="0.15">OV7</text>
<text x="39.2" y="279.4" font-size="5.3" text-anchor="start" font-weight="normal" fill="#222" textLength="15.60" lengthAdjust="spacingAndGlyphs" stroke="#222" stroke-width="0.15">A2780</text>
<text x="162.6" y="328.2" font-size="5.3" text-anchor="start" font-weight="normal" fill="#222" textLength="17.70" lengthAdjust="spacingAndGlyphs" stroke="#222" stroke-width="0.15">TYKNU</text>
<text x="165" y="348.4" font-size="5.3" text-anchor="start" font-weight="normal" fill="#222" textLength="17.60" lengthAdjust="spacingAndGlyphs" stroke="#222" stroke-width="0.15">JHOC-5</text>
<line x1="255.5" y1="12.5" x2="487" y2="12.5" stroke="#c0c0c0" stroke-width="0.8"/>
<rect x="284" y="12.5" width="1.02" height="0.1" fill="#878b88"/>
<rect x="285" y="12.5" width="1.02" height="0.4" fill="#909491"/>
<rect x="286" y="12.5" width="1.02" height="0.6" fill="#9b848f"/>
<rect x="287" y="12.5" width="1.02" height="0.9" fill="#a27e90"/>
<rect x="288" y="12.5" width="1.02" height="1.1" fill="#909491"/>
<rect x="289" y="12.5" width="1.02" height="1.4" fill="#919491"/>
<rect x="290" y="12.5" width="1.02" height="1.6" fill="#9b848f"/>
<rect x="291" y="12.5" width="1.02" height="1.8" fill="#909491"/>
<rect x="292" y="12.5" width="1.02" height="2.1" fill="#919592"/>
<rect x="293" y="12.5" width="1.02" height="2.3" fill="#929693"/>
<rect x="294" y="12.5" width="1.02" height="2.5" fill="#a27e90"/>
<rect x="295" y="12.5" width="1.02" height="2.7" fill="#9b848f"/>
<rect x="296" y="12.5" width="1.02" height="3.0" fill="#8b8f8c"/>
<rect x="297" y="12.5" width="1.02" height="3.2" fill="#929693"/>
<rect x="298" y="12.5" width="1.02" height="3.4" fill="#a27e90"/>
<rect x="299" y="12.5" width="1.02" height="3.6" fill="#b27292"/>
<rect x="300" y="12.5" width="1.02" height="3.9" fill="#b96d92"/>
<rect x="301" y="12.5" width="1.02" height="4.1" fill="#b96d92"/>
<rect x="302" y="12.5" width="1.02" height="4.2" fill="#aa7891"/>
<rect x="303" y="12.5" width="1.02" height="4.4" fill="#919492"/>
<rect x="304" y="12.5" width="1.02" height="4.6" fill="#9b848f"/>
<rect x="305" y="12.5" width="1.02" height="4.9" fill="#8c908d"/>
<rect x="306" y="12.5" width="1.02" height="5.1" fill="#909491"/>
<rect x="307" y="12.5" width="1.02" height="5.2" fill="#8b8f8c"/>
<rect x="308" y="12.5" width="1.02" height="5.4" fill="#b27292"/>
<rect x="309" y="12.5" width="1.02" height="5.6" fill="#c06793"/>
<rect x="310" y="12.5" width="1.02" height="5.9" fill="#b27292"/>
<rect x="311" y="12.5" width="1.02" height="6.1" fill="#878b88"/>
<rect x="312" y="12.5" width="1.02" height="6.2" fill="#9b848f"/>
<rect x="313" y="12.5" width="1.02" height="6.4" fill="#939693"/>
<rect x="314" y="12.5" width="1.02" height="6.5" fill="#909491"/>
<rect x="315" y="12.5" width="1.02" height="6.7" fill="#919592"/>
<rect x="316" y="12.5" width="1.02" height="6.8" fill="#878b88"/>
<rect x="317" y="12.5" width="1.02" height="7.0" fill="#919592"/>
<rect x="318" y="12.5" width="1.02" height="7.1" fill="#9f818f"/>
<rect x="319" y="12.5" width="1.02" height="7.3" fill="#898d8a"/>
<rect x="320" y="12.5" width="1.02" height="7.4" fill="#949795"/>
<rect x="321" y="12.5" width="1.02" height="7.6" fill="#949795"/>
<rect x="322" y="12.5" width="1.02" height="7.7" fill="#939693"/>
<rect x="323" y="12.5" width="1.02" height="7.9" fill="#929592"/>
<rect x="324" y="12.5" width="1.02" height="8.0" fill="#b96d92"/>
<rect x="325" y="12.5" width="1.02" height="8.2" fill="#c06793"/>
<rect x="326" y="12.5" width="1.02" height="8.5" fill="#898d8a"/>
<rect x="327" y="12.5" width="1.02" height="8.7" fill="#8b8f8c"/>
<rect x="328" y="12.5" width="1.02" height="9.0" fill="#929693"/>
<rect x="329" y="12.5" width="1.02" height="9.2" fill="#888c89"/>
<rect x="330" y="12.5" width="1.02" height="9.5" fill="#9b848f"/>
<rect x="331" y="12.5" width="1.02" height="9.7" fill="#888c89"/>
<rect x="332" y="12.5" width="1.02" height="10.0" fill="#949794"/>
<rect x="333" y="12.5" width="1.02" height="10.2" fill="#939693"/>
<rect x="334" y="12.5" width="1.02" height="10.5" fill="#8c908d"/>
<rect x="335" y="12.5" width="1.02" height="10.7" fill="#8a8e8b"/>
<rect x="336" y="12.5" width="1.02" height="11.0" fill="#cc5e95"/>
<rect x="337" y="12.5" width="1.02" height="11.2" fill="#c46494"/>
<rect x="338" y="12.5" width="1.02" height="11.5" fill="#9f818f"/>
<rect x="339" y="12.5" width="1.02" height="11.8" fill="#b96d92"/>
<rect x="340" y="12.5" width="1.02" height="12.0" fill="#cc5e95"/>
<rect x="341" y="12.5" width="1.02" height="12.3" fill="#a67b90"/>
<rect x="342" y="12.5" width="1.02" height="12.5" fill="#929693"/>
<rect x="343" y="12.5" width="1.02" height="12.8" fill="#898d8a"/>
<rect x="344" y="12.5" width="1.02" height="13.0" fill="#8b8f8c"/>
<rect x="345" y="12.5" width="1.02" height="13.3" fill="#888c8a"/>
<rect x="346" y="12.5" width="1.02" height="13.5" fill="#949794"/>
<rect x="347" y="12.5" width="1.02" height="13.8" fill="#929593"/>
<rect x="348" y="12.5" width="1.02" height="14.0" fill="#8b8f8c"/>
<rect x="349" y="12.5" width="1.02" height="14.3" fill="#898d8a"/>
<rect x="350" y="12.5" width="1.02" height="14.6" fill="#8b8f8c"/>
<rect x="351" y="12.5" width="1.02" height="15.0" fill="#8b8f8c"/>
<rect x="352" y="12.5" width="1.02" height="15.3" fill="#929693"/>
<rect x="353" y="12.5" width="1.02" height="15.7" fill="#8a8e8b"/>
<rect x="354" y="12.5" width="1.02" height="16.1" fill="#909491"/>
<rect x="355" y="12.5" width="1.02" height="16.3" fill="#878b88"/>
<rect x="356" y="12.5" width="1.02" height="16.5" fill="#8a8e8b"/>
<rect x="357" y="12.5" width="1.02" height="16.7" fill="#929593"/>
<rect x="358" y="12.5" width="1.02" height="16.9" fill="#8b8f8c"/>
<rect x="359" y="12.5" width="1.02" height="17.1" fill="#919592"/>
<rect x="360" y="12.5" width="1.02" height="17.3" fill="#8b8f8c"/>
<rect x="361" y="12.5" width="1.02" height="17.5" fill="#878b89"/>
<rect x="362" y="12.5" width="1.02" height="17.6" fill="#8a8e8b"/>
<rect x="363" y="12.5" width="1.02" height="17.8" fill="#898d8a"/>
<rect x="364" y="12.5" width="1.02" height="18.0" fill="#949794"/>
<rect x="365" y="12.5" width="1.02" height="18.4" fill="#929693"/>
<rect x="366" y="12.5" width="1.02" height="18.9" fill="#898d8a"/>
<rect x="367" y="12.5" width="1.02" height="19.4" fill="#939694"/>
<rect x="368" y="12.5" width="1.02" height="19.9" fill="#8a8e8b"/>
<rect x="369" y="12.5" width="1.02" height="20.4" fill="#aa7891"/>
<rect x="370" y="12.5" width="1.02" height="20.8" fill="#d05b95"/>
<rect x="371" y="12.5" width="1.02" height="21.1" fill="#aa7891"/>
<rect x="372" y="12.5" width="1.02" height="21.4" fill="#8b8f8c"/>
<rect x="373" y="12.5" width="1.02" height="21.7" fill="#949795"/>
<rect x="374" y="12.5" width="1.02" height="22.0" fill="#8a8e8b"/>
<rect x="375" y="12.5" width="1.02" height="22.3" fill="#898d8a"/>
<rect x="376" y="12.5" width="1.02" height="22.6" fill="#929693"/>
<rect x="377" y="12.5" width="1.02" height="23.0" fill="#888c8a"/>
<rect x="378" y="12.5" width="1.02" height="23.3" fill="#898d8a"/>
<rect x="379" y="12.5" width="1.02" height="23.6" fill="#8b8f8c"/>
<rect x="380" y="12.5" width="1.02" height="24.0" fill="#8b8f8c"/>
<rect x="381" y="12.5" width="1.02" height="24.5" fill="#919491"/>
<rect x="382" y="12.5" width="1.02" height="24.9" fill="#898d8b"/>
<rect x="383" y="12.5" width="1.02" height="25.4" fill="#919492"/>
<rect x="384" y="12.5" width="1.02" height="25.9" fill="#888c89"/>
<rect x="385" y="12.5" width="1.02" height="26.4" fill="#878b88"/>
<rect x="386" y="12.5" width="1.02" height="26.8" fill="#949794"/>
<rect x="387" y="12.5" width="1.02" height="27.3" fill="#878b88"/>
<rect x="388" y="12.5" width="1.02" height="27.8" fill="#919491"/>
<rect x="389" y="12.5" width="1.02" height="28.3" fill="#939694"/>
<rect x="390" y="12.5" width="1.02" height="28.7" fill="#8a8e8b"/>
<rect x="391" y="12.5" width="1.02" height="29.2" fill="#8a8e8b"/>
<rect x="392" y="12.5" width="1.02" height="29.6" fill="#939794"/>
<rect x="393" y="12.5" width="1.02" height="30.1" fill="#939693"/>
<rect x="394" y="12.5" width="1.02" height="30.6" fill="#898d8a"/>
<rect x="395" y="12.5" width="1.02" height="31.0" fill="#8a8e8b"/>
<rect x="396" y="12.5" width="1.02" height="31.5" fill="#929593"/>
<rect x="397" y="12.5" width="1.02" height="31.9" fill="#949794"/>
<rect x="398" y="12.5" width="1.02" height="32.4" fill="#8a8e8b"/>
<rect x="399" y="12.5" width="1.02" height="33.0" fill="#949794"/>
<rect x="400" y="12.5" width="1.02" height="33.6" fill="#939694"/>
<rect x="401" y="12.5" width="1.02" height="34.2" fill="#919492"/>
<rect x="402" y="12.5" width="1.02" height="34.8" fill="#878b89"/>
<rect x="403" y="12.5" width="1.02" height="35.4" fill="#8b8f8c"/>
<rect x="404" y="12.5" width="1.02" height="36.0" fill="#8c908d"/>
<rect x="405" y="12.5" width="1.02" height="36.6" fill="#949794"/>
<rect x="406" y="12.5" width="1.02" height="37.2" fill="#898d8b"/>
<rect x="407" y="12.5" width="1.02" height="37.8" fill="#929592"/>
<rect x="408" y="12.5" width="1.02" height="38.3" fill="#898d8a"/>
<rect x="409" y="12.5" width="1.02" height="38.7" fill="#939693"/>
<rect x="410" y="12.5" width="1.02" height="39.2" fill="#919492"/>
<rect x="411" y="12.5" width="1.02" height="39.6" fill="#898d8a"/>
<rect x="412" y="12.5" width="1.02" height="40.1" fill="#8a8e8b"/>
<rect x="413" y="12.5" width="1.02" height="40.6" fill="#929592"/>
<rect x="414" y="12.5" width="1.02" height="41.0" fill="#b96d92"/>
<rect x="415" y="12.5" width="1.02" height="41.5" fill="#d05b95"/>
<rect x="416" y="12.5" width="1.02" height="41.9" fill="#b27292"/>
<rect x="417" y="12.5" width="1.02" height="42.4" fill="#939693"/>
<rect x="418" y="12.5" width="1.02" height="42.8" fill="#919492"/>
<rect x="419" y="12.5" width="1.02" height="43.3" fill="#898d8a"/>
<rect x="420" y="12.5" width="1.02" height="43.8" fill="#939794"/>
<rect x="421" y="12.5" width="1.02" height="44.4" fill="#8a8e8b"/>
<rect x="422" y="12.5" width="1.02" height="45.1" fill="#8c908d"/>
<rect x="423" y="12.5" width="1.02" height="45.7" fill="#898d8a"/>
<rect x="424" y="12.5" width="1.02" height="46.3" fill="#878b88"/>
<rect x="425" y="12.5" width="1.02" height="46.9" fill="#8b8f8c"/>
<rect x="426" y="12.5" width="1.02" height="48.1" fill="#8a8e8b"/>
<rect x="427" y="12.5" width="1.02" height="49.2" fill="#888c89"/>
<rect x="428" y="12.5" width="1.02" height="50.4" fill="#919491"/>
<rect x="429" y="12.5" width="1.02" height="51.6" fill="#8b8f8c"/>
<rect x="430" y="12.5" width="1.02" height="52.8" fill="#888c89"/>
<rect x="431" y="12.5" width="1.02" height="53.9" fill="#939694"/>
<rect x="432" y="12.5" width="1.02" height="54.9" fill="#949794"/>
<rect x="433" y="12.5" width="1.02" height="56.0" fill="#919592"/>
<rect x="434" y="12.5" width="1.02" height="56.8" fill="#929592"/>
<rect x="435" y="12.5" width="1.02" height="57.7" fill="#919491"/>
<rect x="436" y="12.5" width="1.02" height="58.5" fill="#8a8e8c"/>
<rect x="437" y="12.5" width="1.02" height="59.3" fill="#8c908d"/>
<rect x="438" y="12.5" width="1.02" height="60.2" fill="#aa7891"/>
<rect x="439" y="12.5" width="1.02" height="60.9" fill="#c86194"/>
<rect x="440" y="12.5" width="1.02" height="61.6" fill="#c86194"/>
<rect x="441" y="12.5" width="1.02" height="62.2" fill="#aa7891"/>
<rect x="442" y="12.5" width="1.02" height="62.9" fill="#8c908d"/>
<rect x="443" y="12.5" width="1.02" height="63.6" fill="#919592"/>
<rect x="444" y="12.5" width="1.02" height="64.4" fill="#878b88"/>
<rect x="445" y="12.5" width="1.02" height="65.2" fill="#929593"/>
<rect x="446" y="12.5" width="1.02" height="66.1" fill="#898d8a"/>
<rect x="447" y="12.5" width="1.02" height="66.9" fill="#949795"/>
<rect x="448" y="12.5" width="1.02" height="67.7" fill="#8b8f8c"/>
<rect x="449" y="12.5" width="1.02" height="68.6" fill="#909491"/>
<rect x="450" y="12.5" width="1.02" height="69.7" fill="#929593"/>
<rect x="451" y="12.5" width="1.02" height="70.9" fill="#939694"/>
<rect x="452" y="12.5" width="1.02" height="72.2" fill="#929593"/>
<rect x="453" y="12.5" width="1.02" height="73.5" fill="#929592"/>
<rect x="454" y="12.5" width="1.02" height="74.5" fill="#929693"/>
<rect x="455" y="12.5" width="1.02" height="75.3" fill="#939794"/>
<rect x="456" y="12.5" width="1.02" height="76.1" fill="#aa7891"/>
<rect x="457" y="12.5" width="1.02" height="77.0" fill="#d05b95"/>
<rect x="458" y="12.5" width="1.02" height="77.6" fill="#d05b95"/>
<rect x="459" y="12.5" width="1.02" height="77.4" fill="#b27292"/>
<rect x="460" y="12.5" width="1.02" height="78.4" fill="#878b89"/>
<rect x="461" y="12.5" width="1.02" height="79.4" fill="#929693"/>
<rect x="462" y="12.5" width="1.02" height="80.4" fill="#939694"/>
<rect x="463" y="12.5" width="1.02" height="81.4" fill="#919491"/>
<rect x="464" y="12.5" width="1.02" height="83.7" fill="#919492"/>
<rect x="465" y="12.5" width="1.02" height="87.3" fill="#888c89"/>
<rect x="466" y="12.5" width="1.02" height="91.0" fill="#919491"/>
<rect x="467" y="12.5" width="1.02" height="96.2" fill="#919492"/>
<rect x="468" y="12.5" width="1.02" height="103.0" fill="#8b8f8c"/>
<rect x="469" y="12.5" width="1.02" height="109.0" fill="#b27292"/>
<rect x="470" y="12.5" width="1.02" height="114.3" fill="#d05b95"/>
<rect x="471" y="12.5" width="1.02" height="118.1" fill="#c06793"/>
<rect x="472" y="12.5" width="1.02" height="123.7" fill="#929593"/>
<rect x="473" y="12.5" width="1.02" height="129.2" fill="#888c89"/>
<rect x="474" y="12.5" width="1.02" height="132.0" fill="#929593"/>
<rect x="475" y="12.5" width="1.02" height="134.7" fill="#919491"/>
<rect x="476" y="12.5" width="1.02" height="162.0" fill="#878b89"/>
<rect x="477" y="12.5" width="1.02" height="162.0" fill="#939693"/>
<line x1="255.3" y1="113.2" x2="483.5" y2="113.2" stroke="#7a7a7a" stroke-width="1"/>
<line x1="255.5" y1="177" x2="487" y2="177" stroke="#eeeeee" stroke-width="0.8"/>
<line x1="255.8" y1="12" x2="255.8" y2="177" stroke="#efefef" stroke-width="0.8"/>
<text x="254.2" y="14.9" font-size="6.7" text-anchor="end" font-weight="bold" fill="#1a1a1a" >0</text>
<text x="254.2" y="35.0" font-size="6.7" text-anchor="end" font-weight="bold" fill="#1a1a1a" >−0.5</text>
<text x="254.2" y="55.1" font-size="6.7" text-anchor="end" font-weight="bold" fill="#1a1a1a" >−1</text>
<text x="254.2" y="75.2" font-size="6.7" text-anchor="end" font-weight="bold" fill="#1a1a1a" >−1.5</text>
<text x="254.2" y="95.3" font-size="6.7" text-anchor="end" font-weight="bold" fill="#1a1a1a" >−2</text>
<text x="254.2" y="115.4" font-size="6.7" text-anchor="end" font-weight="bold" fill="#1a1a1a" >−2.5</text>
<text x="254.2" y="135.5" font-size="6.7" text-anchor="end" font-weight="bold" fill="#1a1a1a" >−3</text>
<text x="254.2" y="155.6" font-size="6.7" text-anchor="end" font-weight="bold" fill="#1a1a1a" >−3.5</text>
<text x="254.2" y="175.7" font-size="6.7" text-anchor="end" font-weight="bold" fill="#1a1a1a" >−4</text>
<text x="217.5" y="10.3" font-size="12.5" text-anchor="start" font-weight="bold" fill="#000" >C</text>
<text transform="translate(234.8,85.9) rotate(-90)" font-size="6.8" text-anchor="middle" fill="#111" stroke="#111" stroke-width="0.2" textLength="61.8" lengthAdjust="spacingAndGlyphs">EZH2 LogP RSA score</text>
<rect x="269.2" y="130" width="3.4" height="3.2" fill="#8c8c8c"/>
<rect x="269.2" y="137.3" width="3.4" height="3.2" fill="#d05090"/>
<circle cx="270.8" cy="147.4" r="1.1" fill="#222"/>
<text x="275.8" y="133.3" font-size="5.2" text-anchor="start" font-weight="bold" fill="#222" textLength="42.90" lengthAdjust="spacingAndGlyphs" >All other indications</text>
<text x="275.8" y="140.6" font-size="5.2" text-anchor="start" font-weight="bold" fill="#222" textLength="16.50" lengthAdjust="spacingAndGlyphs" >Ovarian</text>
<text x="275.8" y="149.3" font-size="5.2" text-anchor="start" font-weight="bold" fill="#222" textLength="63.00" lengthAdjust="spacingAndGlyphs" >ARID1A protein low or absent</text>
<text x="353" y="187.6" font-size="8.2" text-anchor="start" font-weight="bold" fill="#333" textLength="29.30" lengthAdjust="spacingAndGlyphs" >Cell lines</text>
<line x1="272.4" y1="13" x2="271" y2="19.3" stroke="#333" stroke-width="0.8"/>
<line x1="280.9" y1="14" x2="280.9" y2="20.7" stroke="#333" stroke-width="0.8"/>
<line x1="301.75" y1="16.9" x2="299.8" y2="27" stroke="#333" stroke-width="0.8"/>
<line x1="309.4" y1="17" x2="312.5" y2="31.25" stroke="#333" stroke-width="0.8"/>
<line x1="325.6" y1="21.25" x2="312.5" y2="58" stroke="#333" stroke-width="0.8"/>
<line x1="337.5" y1="25" x2="332.25" y2="51.25" stroke="#333" stroke-width="0.8"/>
<line x1="340.6" y1="25.6" x2="348.75" y2="41.25" stroke="#333" stroke-width="0.8"/>
<line x1="370.6" y1="33" x2="378.75" y2="49.4" stroke="#333" stroke-width="0.8"/>
<line x1="413.75" y1="55" x2="400" y2="66.25" stroke="#333" stroke-width="0.8"/>
<line x1="438.9" y1="73" x2="424.8" y2="85.6" stroke="#333" stroke-width="0.8"/>
<line x1="455.4" y1="89.7" x2="432.8" y2="107.6" stroke="#333" stroke-width="0.8"/>
<line x1="457.7" y1="91.2" x2="453.8" y2="104.5" stroke="#333" stroke-width="0.8"/>
<line x1="461.6" y1="126.8" x2="469.4" y2="125.9" stroke="#333" stroke-width="0.8"/>
<text x="261.4" y="25.5" font-size="4.9" text-anchor="start" font-weight="normal" fill="#222" textLength="8.90" lengthAdjust="spacingAndGlyphs" stroke="#222" stroke-width="0.15">OV7</text>
<text x="273.4" y="27" font-size="4.9" text-anchor="start" font-weight="normal" fill="#222" textLength="13.00" lengthAdjust="spacingAndGlyphs" stroke="#222" stroke-width="0.15">JHOC-5</text>
<text x="285.9" y="33.7" font-size="4.9" text-anchor="start" font-weight="normal" fill="#222" textLength="17.30" lengthAdjust="spacingAndGlyphs" stroke="#222" stroke-width="0.15">SKOV-3*</text>
<text x="309.4" y="38.2" font-size="4.9" text-anchor="start" font-weight="normal" fill="#222" textLength="13.60" lengthAdjust="spacingAndGlyphs" stroke="#222" stroke-width="0.15">TYKNU</text>
<text x="302.7" y="65.1" font-size="4.9" text-anchor="start" font-weight="normal" fill="#222" textLength="14.80" lengthAdjust="spacingAndGlyphs" stroke="#222" stroke-width="0.15">OVISE*</text>
<text x="325.6" y="58" font-size="4.9" text-anchor="start" font-weight="normal" fill="#222" textLength="20.60" lengthAdjust="spacingAndGlyphs" stroke="#222" stroke-width="0.15">OVMANA</text>
<text x="348.1" y="47.8" font-size="4.9" text-anchor="start" font-weight="normal" fill="#222" textLength="12.90" lengthAdjust="spacingAndGlyphs" stroke="#222" stroke-width="0.15">RMGI</text>
<text x="376" y="56.2" font-size="4.9" text-anchor="start" font-weight="normal" fill="#222" textLength="6.70" lengthAdjust="spacingAndGlyphs" stroke="#222" stroke-width="0.15">OV</text>
<text x="376.9" y="62.4" font-size="4.9" text-anchor="start" font-weight="normal" fill="#222" textLength="5.00" lengthAdjust="spacingAndGlyphs" stroke="#222" stroke-width="0.15">90</text>
<text x="398.8" y="73" font-size="4.9" text-anchor="start" font-weight="normal" fill="#222" textLength="13.10" lengthAdjust="spacingAndGlyphs" stroke="#222" stroke-width="0.15">EFO27</text>
<text x="422.5" y="91.6" font-size="4.9" text-anchor="start" font-weight="normal" fill="#222" textLength="16.40" lengthAdjust="spacingAndGlyphs" stroke="#222" stroke-width="0.15">OAW42</text>
<text x="402.3" y="111.1" font-size="4.9" text-anchor="start" font-weight="normal" fill="#222" textLength="28.90" lengthAdjust="spacingAndGlyphs" stroke="#222" stroke-width="0.15">KURAMOCHI*</text>
<text x="442.9" y="110.2" font-size="4.9" text-anchor="start" font-weight="normal" fill="#222" textLength="14.80" lengthAdjust="spacingAndGlyphs" stroke="#222" stroke-width="0.15">A2780*</text>
<text x="445.2" y="129.8" font-size="4.9" text-anchor="start" font-weight="normal" fill="#222" textLength="16.40" lengthAdjust="spacingAndGlyphs" stroke="#222" stroke-width="0.15">COV434</text>
<polygon points="244.3,206.8 365.2,206.8 365.2,230.8 322.5,262.6 244.3,262.6" fill="#dbe8bd"/>
<polygon points="404.6,266.8 436.5,266.8 436.5,366.3 370.5,366.3 370.5,296.2" fill="#fae9f9"/>
<line x1="244.3" y1="263.7" x2="435.5" y2="263.7" stroke="#d2bcb6" stroke-width="1.3"/>
<text x="245.2" y="262.5" font-size="5.6" text-anchor="start" font-weight="bold" fill="#222" font-style="italic" textLength="75.80" lengthAdjust="spacingAndGlyphs" >Tazemetostat increases sensitivity</text>
<text x="370.2" y="358.1" font-size="5.0" text-anchor="start" font-weight="bold" fill="#222" font-style="italic" textLength="53.00" lengthAdjust="spacingAndGlyphs" >Tazemetostat decreases</text>
<text x="370.2" y="364.1" font-size="5.0" text-anchor="start" font-weight="bold" fill="#222" font-style="italic" textLength="22.50" lengthAdjust="spacingAndGlyphs" >sensitivity</text>
<line x1="245" y1="366.4" x2="440" y2="205.4" stroke="#333" stroke-width="0.9"/>
<text x="243" y="212.1" font-size="6.4" text-anchor="end" font-weight="bold" fill="#1a1a1a" textLength="12.60" lengthAdjust="spacingAndGlyphs" >0.00</text>
<text x="243" y="233.5" font-size="6.4" text-anchor="end" font-weight="bold" fill="#1a1a1a" textLength="16.70" lengthAdjust="spacingAndGlyphs" >−1.00</text>
<text x="243" y="254.9" font-size="6.4" text-anchor="end" font-weight="bold" fill="#1a1a1a" textLength="16.70" lengthAdjust="spacingAndGlyphs" >−2.00</text>
<text x="243" y="276.3" font-size="6.4" text-anchor="end" font-weight="bold" fill="#1a1a1a" textLength="16.70" lengthAdjust="spacingAndGlyphs" >−3.00</text>
<text x="243" y="297.7" font-size="6.4" text-anchor="end" font-weight="bold" fill="#1a1a1a" textLength="16.70" lengthAdjust="spacingAndGlyphs" >−4.00</text>
<text x="243" y="319.1" font-size="6.4" text-anchor="end" font-weight="bold" fill="#1a1a1a" textLength="16.70" lengthAdjust="spacingAndGlyphs" >−5.00</text>
<text x="243" y="340.5" font-size="6.4" text-anchor="end" font-weight="bold" fill="#1a1a1a" textLength="16.70" lengthAdjust="spacingAndGlyphs" >−6.00</text>
<text x="243" y="361.9" font-size="6.4" text-anchor="end" font-weight="bold" fill="#1a1a1a" textLength="16.70" lengthAdjust="spacingAndGlyphs" >−7.00</text>
<text x="427.7" y="373.8" font-size="6.4" text-anchor="middle" font-weight="bold" fill="#1a1a1a" textLength="12.60" lengthAdjust="spacingAndGlyphs" >0.00</text>
<text x="402.2" y="373.8" font-size="6.4" text-anchor="middle" font-weight="bold" fill="#1a1a1a" textLength="16.40" lengthAdjust="spacingAndGlyphs" >−1.00</text>
<text x="376.7" y="373.8" font-size="6.4" text-anchor="middle" font-weight="bold" fill="#1a1a1a" textLength="16.40" lengthAdjust="spacingAndGlyphs" >−2.00</text>
<text x="351.2" y="373.8" font-size="6.4" text-anchor="middle" font-weight="bold" fill="#1a1a1a" textLength="16.40" lengthAdjust="spacingAndGlyphs" >−3.00</text>
<text x="325.7" y="373.8" font-size="6.4" text-anchor="middle" font-weight="bold" fill="#1a1a1a" textLength="16.40" lengthAdjust="spacingAndGlyphs" >−4.00</text>
<text x="300.2" y="373.8" font-size="6.4" text-anchor="middle" font-weight="bold" fill="#1a1a1a" textLength="16.40" lengthAdjust="spacingAndGlyphs" >−5.00</text>
<text x="274.7" y="373.8" font-size="6.4" text-anchor="middle" font-weight="bold" fill="#1a1a1a" textLength="16.40" lengthAdjust="spacingAndGlyphs" >−6.00</text>
<text x="249.2" y="373.8" font-size="6.4" text-anchor="middle" font-weight="bold" fill="#1a1a1a" textLength="16.40" lengthAdjust="spacingAndGlyphs" >−7.00</text>
<text x="217.3" y="211.5" font-size="12.5" text-anchor="start" font-weight="bold" fill="#000" >D</text>
<text transform="translate(220,299.8) rotate(-90)" font-size="6.3" text-anchor="middle" font-weight="bold" fill="#222" textLength="87.5" lengthAdjust="spacingAndGlyphs">LogP (RSA) of untreated cell lines</text>
<text x="276.9" y="382.5" font-size="6.4" text-anchor="start" font-weight="bold" fill="#222" textLength="135.40" lengthAdjust="spacingAndGlyphs" >LogP (RSA) in the presence of 1 μmol/L tazemetostat</text>
<circle cx="389.5" cy="245.5" r="1.3" fill="#e0b050" opacity="0.85"/>
<circle cx="392.5" cy="242.8" r="1.3" fill="#f0c850" opacity="0.85"/>
<circle cx="395.5" cy="240.4" r="1.3" fill="#d8a848" opacity="0.85"/>
<circle cx="401" cy="235.8" r="1.3" fill="#f0c850" opacity="0.85"/>
<circle cx="404" cy="233.2" r="1.3" fill="#e0a848" opacity="0.85"/>
<circle cx="408.2" cy="229.8" r="1.3" fill="#f0c040" opacity="0.85"/>
<circle cx="411.2" cy="227.3" r="1.3" fill="#e8b048" opacity="0.85"/>
<circle cx="413.6" cy="225.4" r="1.3" fill="#d8b040" opacity="0.85"/>
<path d="M380.8,217.2L383.8,220.2M383.8,217.2L380.8,220.2" stroke="#c8a070" stroke-width="1"/>
<circle cx="387.4" cy="221.6" r="1.5" fill="#a0a0a8"/>
<circle cx="405.7" cy="212.3" r="1.5" fill="#f07080"/>
<circle cx="408" cy="218" r="1.5" fill="#c02050"/>
<polygon points="411.6,216.89999999999998 413.3,220.0 409.90000000000003,220.0" fill="#c02050"/>
<circle cx="398.7" cy="224" r="1.5" fill="#4a68b0"/>
<circle cx="397.5" cy="228" r="1.5" fill="#4a68b0"/>
<circle cx="396.4" cy="231.6" r="1.5" fill="#6a7890"/>
<rect x="401.3" y="224.8" width="3.0" height="3.0" fill="#c89060"/>
<circle cx="405.1" cy="221.6" r="1.5" fill="#f0d040"/>
<circle cx="406.3" cy="231" r="1.5" fill="#5a70a0"/>
<circle cx="400.5" cy="234" r="1.5" fill="#f0d040"/>
<circle cx="397.5" cy="236.8" r="1.5" fill="#d0b090"/>
<rect x="403.1" y="237.7" width="3.0" height="3.0" fill="#3a58a0"/>
<circle cx="415.1" cy="241" r="1.5" fill="#f0e060"/>
<circle cx="414.5" cy="227.5" r="1.5" fill="#f0a040"/>
<circle cx="418" cy="224.6" r="1.5" fill="#1a3a20"/>
<circle cx="418.6" cy="231" r="1.5" fill="#e080c0"/>
<circle cx="422.1" cy="228.7" r="1.5" fill="#701030"/>
<circle cx="421.5" cy="214.6" r="1.5" fill="#e0408a"/>
<circle cx="423.3" cy="215.8" r="1.5" fill="#e0408a"/>
<circle cx="425.6" cy="219.9" r="1.5" fill="#2a90a0"/>
<circle cx="422.1" cy="210" r="1.5" fill="#5070c0"/>
<circle cx="425" cy="210" r="1.5" fill="#30a040"/>
<circle cx="428" cy="210.5" r="1.5" fill="#f0a050"/>
<circle cx="426.8" cy="215.2" r="1.5" fill="#30a040"/>
<circle cx="427.4" cy="213.5" r="1.5" fill="#208030"/>
<circle cx="418.6" cy="220.5" r="1.5" fill="#e0e070"/>
<circle cx="424.4" cy="233.9" r="1.5" fill="#d8b898"/>
<circle cx="406.4" cy="223.2" r="1.5" fill="#f0d040"/>
<circle cx="415.9" cy="218.6" r="1.5" fill="#a098b0"/>
<circle cx="414" cy="226.8" r="1.5" fill="#e0a050"/>
<circle cx="406.4" cy="212.3" r="1.5" fill="#f07080"/>
<line x1="369" y1="204.5" x2="369" y2="210.5" stroke="#c0a0c0" stroke-width="0.8"/>
<polygon points="369.5,227.8 371.2,224.7 367.8,224.7" fill="#b89070"/>
<rect x="372.4" y="236.1" width="3.0" height="3.0" fill="#f0e080"/>
<circle cx="372.7" cy="243.5" r="1.5" fill="#b0a0a8"/>
<polygon points="377.7,242.79999999999998 379.4,245.9 376.0,245.9" fill="#2a6070"/>
<circle cx="387.4" cy="244.6" r="1.5" fill="#7080a0"/>
<path d="M364.2,248.4L367.2,251.4M367.2,248.4L364.2,251.4" stroke="#f0d040" stroke-width="1"/>
<circle cx="364.6" cy="251" r="1.5" fill="#c8b080"/>
<polygon points="361.6,255.8 363.3,252.7 359.90000000000003,252.7" fill="#3040a0"/>
<polygon points="371,251.0 372.7,254.10000000000002 369.3,254.10000000000002" fill="#80a8a8"/>
<circle cx="373.3" cy="252.2" r="1.5" fill="#60a0a0"/>
<circle cx="387.4" cy="251" r="1.5" fill="#f0c080"/>
<circle cx="397.9" cy="254.6" r="1.5" fill="#e08830"/>
<polygon points="391.5,259.8 393.2,262.90000000000003 389.8,262.90000000000003" fill="#c8a080"/>
<circle cx="396.7" cy="232.3" r="1.5" fill="#6a7890"/>
<circle cx="398.5" cy="237" r="1.5" fill="#e0b070"/>
<rect x="402.9" y="237.9" width="3.0" height="3.0" fill="#3a58a0"/>
<circle cx="407.5" cy="244" r="1.5" fill="#8a9070"/>
<circle cx="414.8" cy="240.9" r="1.5" fill="#f0e040"/>
<circle cx="399.7" cy="243.5" r="1.5" fill="#d8b088"/>
<circle cx="400.7" cy="248.2" r="1.5" fill="#d8b088"/>
<polygon points="405.4,248.5 407.09999999999997,251.60000000000002 403.7,251.60000000000002" fill="#c8b090"/>
<circle cx="398.1" cy="254.4" r="1.5" fill="#e08830"/>
<polygon points="426.7,251.0 428.4,247.89999999999998 425.0,247.89999999999998" fill="#708090"/>
<polygon points="338.7,273.6 340.4,270.5 337.0,270.5" fill="#4090a0"/>
<path d="M361.2,270.6L362.7,272.6L364.2,270.6M362.7,272.6L362.7,274.6" stroke="#a04030" stroke-width="1" fill="none"/>
<circle cx="336" cy="282.6" r="1.5" fill="#e0ecd0"/>
<circle cx="355.6" cy="282" r="1.5" fill="#d0d8c8"/>
<polygon points="362.3,279.0 364.0,282.1 360.6,282.1" fill="#c8d8b0"/>
<rect x="377.7" y="282.8" width="3.0" height="3.0" fill="#60b0b0"/>
<rect x="399.7" y="272.0" width="3.0" height="3.0" fill="#70b0b8"/>
<path d="M333.9,292.5L336.9,295.5M336.9,292.5L333.9,295.5" stroke="#80c0c0" stroke-width="1"/>
<circle cx="319.9" cy="276.6" r="1.5" fill="#d8d8e0"/>
<circle cx="336.2" cy="283" r="1.5" fill="#e8e8d0"/>
<path d="M265.8,303.1L268.8,306.1M268.8,303.1L265.8,306.1" stroke="#d060a0" stroke-width="1"/>
<circle cx="287.8" cy="358" r="1.5" fill="#60b8a0"/>
<line x1="382.3" y1="226.9" x2="391.70" y2="235.98" stroke="#222" stroke-width="1.0"/><polygon points="394,238.2 390.59,237.13 392.81,234.83" fill="#222"/>
<line x1="345.1" y1="267.1" x2="354.54" y2="276.54" stroke="#222" stroke-width="1.0"/><polygon points="356.8,278.8 353.41,277.67 355.67,275.41" fill="#222"/>
<line x1="428" y1="234.5" x2="421.90" y2="227.51" stroke="#501020" stroke-width="1.0"/><polygon points="419.8,225.1 423.11,226.46 420.70,228.56" fill="#501020"/>
<line x1="282.6" y1="317.4" x2="273.10" y2="308.22" stroke="#2020c0" stroke-width="1.0"/><polygon points="270.8,306 274.21,307.07 271.99,309.37" fill="#2020c0"/>
<path d="M446.2,233.4 H476.5 V249.5 H518.7 V280.7 H476.5 V323.3 H446.2 Z" fill="#fff" stroke="#666" stroke-width="0.7"/>
<circle cx="450.1" cy="237.70" r="1.75" fill="#40b8c0"/>
<text x="453.8" y="239.05" font-size="3.75" text-anchor="start" font-weight="normal" fill="#111" stroke="#111" stroke-width="0.18">ACTL6A</text>
<circle cx="450.1" cy="243.20" r="1.75" fill="#3a5fc0"/>
<text x="453.8" y="244.55" font-size="3.75" text-anchor="start" font-weight="normal" fill="#111" stroke="#111" stroke-width="0.18">ACTL6B</text>
<circle cx="450.1" cy="248.70" r="1.75" fill="#b8d050"/>
<text x="453.8" y="250.05" font-size="3.75" text-anchor="start" font-weight="normal" fill="#111" stroke="#111" stroke-width="0.18">ARID1A</text>
<circle cx="450.1" cy="254.20" r="1.75" fill="#f0c830"/>
<text x="453.8" y="255.55" font-size="3.75" text-anchor="start" font-weight="normal" fill="#111" stroke="#111" stroke-width="0.18">ARID1B</text>
<circle cx="450.1" cy="259.70" r="1.75" fill="#e88040"/>
<text x="453.8" y="261.05" font-size="3.75" text-anchor="start" font-weight="normal" fill="#111" stroke="#111" stroke-width="0.18">ARID2</text>
<circle cx="450.1" cy="265.20" r="1.75" fill="#3a90a8"/>
<text x="453.8" y="266.55" font-size="3.75" text-anchor="start" font-weight="normal" fill="#111" stroke="#111" stroke-width="0.18">DPF2</text>
<circle cx="450.1" cy="270.70" r="1.75" fill="#2a9a3a"/>
<text x="453.8" y="272.05" font-size="3.75" text-anchor="start" font-weight="normal" fill="#111" stroke="#111" stroke-width="0.18">EZH2</text>
<circle cx="450.1" cy="276.20" r="1.75" fill="#8a6a40"/>
<text x="453.8" y="277.55" font-size="3.75" text-anchor="start" font-weight="normal" fill="#111" stroke="#111" stroke-width="0.18">PBRM1</text>
<circle cx="450.1" cy="281.70" r="1.75" fill="#e04c98"/>
<text x="453.8" y="283.05" font-size="3.75" text-anchor="start" font-weight="normal" fill="#111" stroke="#111" stroke-width="0.18">SMARCA2</text>
<circle cx="450.1" cy="287.20" r="1.45" fill="#e8ecc0" stroke="#d8e0a0" stroke-width="0.7"/>
<text x="453.8" y="288.55" font-size="3.75" text-anchor="start" font-weight="normal" fill="#111" stroke="#111" stroke-width="0.18">SMARCA4</text>
<circle cx="450.1" cy="292.70" r="1.75" fill="#f0e080"/>
<text x="453.8" y="294.05" font-size="3.75" text-anchor="start" font-weight="normal" fill="#111" stroke="#111" stroke-width="0.18">SMARCB1</text>
<circle cx="450.1" cy="298.20" r="1.75" fill="#c0104a"/>
<text x="453.8" y="299.55" font-size="3.75" text-anchor="start" font-weight="normal" fill="#111" stroke="#111" stroke-width="0.18">SMARCC1</text>
<circle cx="450.1" cy="303.70" r="1.45" fill="#fce8d0" stroke="#f0b070" stroke-width="0.7"/>
<text x="453.8" y="305.05" font-size="3.75" text-anchor="start" font-weight="normal" fill="#111" stroke="#111" stroke-width="0.18">SMARCC2</text>
<circle cx="450.1" cy="309.20" r="1.45" fill="#e0ecf0" stroke="#a8c0c8" stroke-width="0.7"/>
<text x="453.8" y="310.55" font-size="3.75" text-anchor="start" font-weight="normal" fill="#111" stroke="#111" stroke-width="0.18">SMARCD1</text>
<circle cx="450.1" cy="314.70" r="1.45" fill="#e0c8c0" stroke="#d0b0a8" stroke-width="0.7"/>
<text x="453.8" y="316.05" font-size="3.75" text-anchor="start" font-weight="normal" fill="#111" stroke="#111" stroke-width="0.18">SMARCD2</text>
<circle cx="450.1" cy="320.20" r="1.45" fill="#5070a0" stroke="#203860" stroke-width="0.7"/>
<text x="453.8" y="321.55" font-size="3.75" text-anchor="start" font-weight="normal" fill="#111" stroke="#111" stroke-width="0.18">SMARCE1</text>
<path d="M480,252.9L482,254.9M482,252.9L480,254.9" stroke="#666" stroke-width="0.7"/>
<text x="484" y="255.1" font-size="3.4" text-anchor="start" font-weight="normal" fill="#111" stroke="#111" stroke-width="0.15">JHOC5_OVARY</text>
<polygon points="481,259.83000000000004 482.1,257.83000000000004 479.9,257.83000000000004" fill="#777"/>
<text x="484" y="259.93" font-size="3.4" text-anchor="start" font-weight="normal" fill="#111" stroke="#111" stroke-width="0.15">KURAMOCHI_OVARY</text>
<circle cx="481" cy="263.56" r="1" fill="#777"/>
<text x="484" y="264.76" font-size="3.4" text-anchor="start" font-weight="normal" fill="#111" stroke="#111" stroke-width="0.15">OV90_OVARY</text>
<polygon points="481,267.28999999999996 482.1,269.28999999999996 479.9,269.28999999999996" fill="#777"/>
<text x="484" y="269.59" font-size="3.4" text-anchor="start" font-weight="normal" fill="#111" stroke="#111" stroke-width="0.15">OVISE_OVARY</text>
<circle cx="481" cy="273.22" r="0.9" fill="none" stroke="#666" stroke-width="0.6"/>
<text x="484" y="274.42" font-size="3.4" text-anchor="start" font-weight="normal" fill="#111" stroke="#111" stroke-width="0.15">OVMANA_OVARY</text>
<rect x="479.9" y="276.95" width="2.2" height="2.2" fill="#888"/>
<text x="484" y="279.25" font-size="3.4" text-anchor="start" font-weight="normal" fill="#111" stroke="#111" stroke-width="0.15">RMGI_OVARY</text>
</svg></body></html>
